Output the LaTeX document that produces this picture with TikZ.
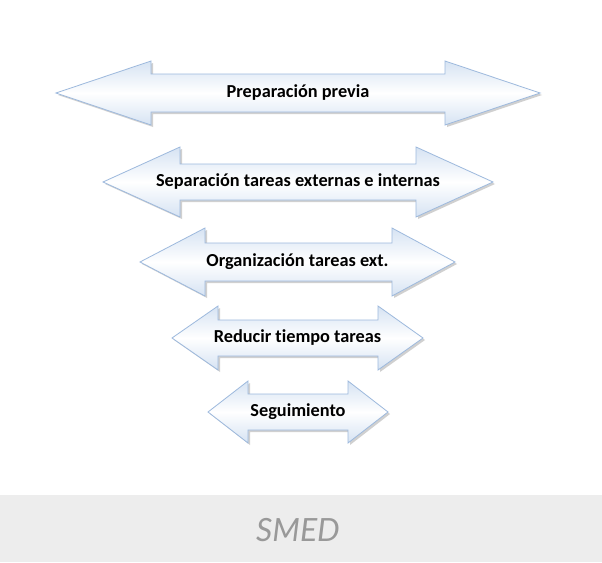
\documentclass[tikz,border=0pt]{standalone}
\usepackage{fontspec}
\setmainfont[Ligatures=NoCommon]{Carlito}
\newfontfamily\capfont{Lato}
\usetikzlibrary{shadows}
\definecolor{edge}{HTML}{9DB9DD}
\definecolor{pale}{HTML}{D6E3F3}
\tikzset{darrow/.style={draw=edge,line width=0.8pt,top color=pale,bottom color=pale,middle color=white,
  drop shadow={shadow xshift=2pt,shadow yshift=-2pt,fill=gray!60,opacity=0.6}},
  lbl/.style={font=\bfseries\fontsize{18.3}{21}\selectfont,text=black}}
\newcommand{\darrowat}[9]{% name, lefttip, leftback, rightback, righttip, ycenter, headhalf, shafthalf, text
  \draw[darrow] (#2,-#6) -- (#3,-#6+#7) -- (#3,-#6+#8) -- (#4,-#6+#8) -- (#4,-#6+#7) -- (#5,-#6)
   -- (#4,-#6-#7) -- (#4,-#6-#8) -- (#3,-#6-#8) -- (#3,-#6-#7) -- cycle;
  \node[lbl] (#1) at ({(#2+#5)/2},-#6) {#9};}
\begin{document}
\begin{tikzpicture}[x=1pt,y=1pt]
\useasboundingbox (0,0) rectangle (602,-562);
\fill[white] (0,0) rectangle (602,-562);
\fill[black!7] (0,-495) rectangle (602,-562);
\node[font=\capfont\itshape\fontsize{32}{36}\selectfont,text=black!40] (cap) at (298,-530) {SMED};
\darrowat{a1}{56}{151}{445}{540}{93}{32}{19}{Preparación previa}
\darrowat{a2}{103}{180}{416}{493}{182}{35}{18}{Separación tareas externas e internas}
\darrowat{a3}{140}{205}{392}{455}{262}{34}{19}{Organización tareas ext.}
\darrowat{a4}{172}{218}{378}{423}{338}{32}{18}{Reducir tiempo tareas}
\darrowat{a5}{208}{248}{348}{388}{412}{31}{18}{Seguimiento}
\end{tikzpicture}
\end{document}
